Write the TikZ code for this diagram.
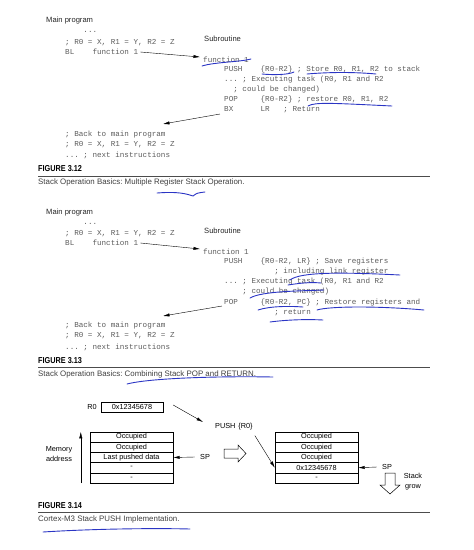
\documentclass[tikz,border=0pt]{standalone}
\usepackage{fontspec}
\setmainfont{Liberation Sans}
\newfontfamily\codefont{Liberation Mono}
\usetikzlibrary{arrows.meta}
\frenchspacing

\definecolor{codegray}{HTML}{5C5C5C}
\definecolor{inkblue}{HTML}{2B35C4}

\begin{document}
\begin{tikzpicture}[x=1pt,y=-1pt,
	            every node/.style={inner sep=0pt},
	            code/.style={
	            anchor=west,
	            text=codegray,
	            font=\codefont\fontsize{7.6}{9}\selectfont,
	            },
	            title/.style={anchor=west, text=black!85, font=\fontsize{7.6}{9}\selectfont},
	            figno/.style={anchor=west, xscale=0.85, transform shape, font=\bfseries\fontsize{8.6}{9}\selectfont},
	            caption/.style={anchor=west, text=black!75, font=\fontsize{7.9}{9}\selectfont},
	            cell/.style={draw, minimum width=83pt, minimum height=10.2pt, font=\fontsize{7.3}{8}\selectfont},
	            ink/.style={inkblue, line width=0.9pt, line cap=round},
	            rule/.style={black!70, line width=0.6pt},
	            hollow/.style={draw, line width=0.5pt, fill=white, line join=miter},
	            >={Latex[length=6.5pt,width=3.2pt]}]

	        \useasboundingbox (0,0) rectangle (474,550);

	        % figure 3.12
	        \node[title] (main12) at (46,21) {Main program};
	        \node[code] (dots12) at (65,32) {~~~~...};
	        \node[code] (set12) at (65,43) {; R0 = X, R1 = Y, R2 = Z};
	        \node[code] (bl12) at (65,52) {BL~~~~function 1};
	        \node[title] (sub12) at (204,39) {Subroutine};
	        \node[code] (fn12) at (203,60) {function 1};
	        \node[code] (push12) at (224,70) {PUSH~~~~\{R0-R2\} ; Store R0, R1, R2 to stack};
	        \node[code] (exec12) at (224,80) {... ; Executing task (R0, R1 and R2};
	        \node[code] (chg12) at (224,90) {~~; could be changed)};
	        \node[code] (pop12) at (224,100) {POP~~~~~\{R0-R2\} ; restore R0, R1, R2};
	        \node[code] (bx12) at (224,110) {BX~~~~~~LR~~~; Return};
	        \node[code] (back12) at (65,135) {; Back to main program};
	        \node[code] (rst12) at (65,145) {; R0 = X, R1 = Y, R2 = Z};
	        \node[code] (next12) at (65,155) {... ; next instructions};
	        \coordinate (ret12) at (163,124);

	        \draw[->] ([xshift=2pt]bl12.east) -- ([shift={(-3pt,3pt)}]fn12.west);
	        \draw[->] ([shift={(-4pt,-4pt)}]bx12.west) -- (ret12);

	        \node[figno] (fig12) at (38,169) {FIGURE 3.12};
	        \draw[rule] (38,176) -- (430,176);
	        \node[caption] (cap12) at (38,182) {Stack Operation Basics: Multiple Register Stack Operation.};

	        \draw[ink] (202,66) .. controls (215,62) and (240,62) .. (251,59);
	        \draw[ink] (262,74) .. controls (272,75) and (288,75) .. (294,72);
	        \draw[ink] (307,74) .. controls (330,72) and (355,72) .. (376,74);
	        \draw[ink] (308,106) .. controls (315,102) and (330,103) .. (392,106);
	        \draw[ink] (157,193) .. controls (170,192) and (182,192) .. (193,196) .. controls (197,193) .. (205,192);

	        % figure 3.13
	        \node[title] (main13) at (46,213) {Main program};
	        \node[code] (dots13) at (65,224) {~~~~...};
	        \node[code] (set13) at (65,234) {; R0 = X, R1 = Y, R2 = Z};
	        \node[code] (bl13) at (65,243) {BL~~~~function 1};
	        \node[title] (sub13) at (204,231) {Subroutine};
	        \node[code] (fn13) at (203,252) {function 1};
	        \node[code] (push13) at (224,262) {PUSH~~~~\{R0-R2, LR\} ; Save registers};
	        \node[code] (incl13) at (224,272) {~~~~~~~~~~~; including link register};
	        \node[code] (exec13) at (224,282) {... ; Executing task (R0, R1 and R2};
	        \node[code] (chg13) at (224,292) {~~~~; could be changed)};
	        \node[code] (pop13) at (224,303) {POP~~~~~\{R0-R2, PC\} ; Restore registers and};
	        \node[code] (rtn13) at (224,313) {~~~~~~~~~~~; return};
	        \node[code] (back13) at (65,326) {; Back to main program};
	        \node[code] (rst13) at (65,336) {; R0 = X, R1 = Y, R2 = Z};
	        \node[code] (next13) at (65,347) {... ; next instructions};
	        \coordinate (ret13) at (163,316);

	        \draw[->] ([xshift=2pt]bl13.east) -- ([shift={(-3pt,3pt)}]fn13.west);
	        \draw[->] ([shift={(-2pt,-3pt)}]pop13.west) -- (ret13);

	        \node[figno] (fig13) at (38,361) {FIGURE 3.13};
	        \draw[rule] (38,367) -- (430,367);
	        \node[caption] (cap13) at (38,374) {Stack Operation Basics: Combining Stack POP and RETURN.};

	        \draw[ink] (290,280) .. controls (300,272) and (340,272) .. (400,275);
	        \draw[ink] (288,285) .. controls (300,283) and (312,282) .. (321,283);
	        \draw[ink] (250,298) .. controls (262,291) and (300,291) .. (324,290);
	        \draw[ink] (258,310) .. controls (270,306) and (290,306) .. (303,307);
	        \draw[ink] (317,310) .. controls (330,306) and (380,306) .. (424,310);
	        \draw[ink] (270,322) .. controls (285,320) and (305,319) .. (323,320);
	        \draw[ink] (127,384) .. controls (150,378) and (220,376) .. (273,377);

	        % figure 3.14
	        \node (r0) at (92,407) {\fontsize{7.3}{8}\selectfont R0};
	        \node[draw, minimum width=62pt, minimum height=10pt, font=\fontsize{7.3}{8}\selectfont] (r0box) at (132,407) {0x12345678};
	        \node[anchor=west, font=\fontsize{7.3}{8}\selectfont] (pushlbl) at (215,427) {PUSH\hspace{3pt}\{R0\}};
	        \draw[->] ([shift={(10pt,2pt)}]r0box.east) -- ([shift={(-12pt,5pt)}]pushlbl.west);

	        \node[cell] (l1) at (131.5,437.1) {Occupied};
	        \node[cell] (l2) at (131.5,447.3) {Occupied};
	        \node[cell] (l3) at (131.5,457.5) {Last pushed data};
	        \node[cell] (l4) at (131.5,467.7) {-};
	        \node[cell] (l5) at (131.5,477.9) {-};

	        \node[cell] (r1) at (316.5,437.1) {Occupied};
	        \node[cell] (r2) at (316.5,447.3) {Occupied};
	        \node[cell] (r3) at (316.5,457.5) {Occupied};
	        \node[cell] (r4) at (316.5,467.7) {0x12345678};
	        \node[cell] (r5) at (316.5,477.9) {-};

	        \draw[->] ([xshift=-9pt]l5.south west) -- ([xshift=-9pt]l1.north west);
	        \node[align=center, font=\fontsize{7.3}{10}\selectfont] (mem) at (59,454) {Memory\\address};

	        \node (spl) at (205,457) {\fontsize{7.3}{8}\selectfont SP};
	        \draw[->] ([xshift=-5pt]spl.west) -- (l3.east);
	        \node (spr) at (387,467) {\fontsize{7.3}{8}\selectfont SP};
	        \draw[->] ([xshift=-5pt]spr.west) -- (r4.east);
	        \draw[->] ([shift={(2pt,-5pt)}]pushlbl.south east) -- (r4.west);

	        \draw[hollow] (224,449) -- (238,449) -- (238,445) -- (246,453.5) -- (238,462) -- (238,458) -- (224,458) -- cycle;
	        \draw[hollow] (385,473) -- (395,473) -- (395,485) -- (400,485) -- (390,494) -- (380,485) -- (385,485) -- cycle;
	        \node[align=center, font=\fontsize{7.3}{10}\selectfont] (grow) at (413,482) {Stack\\grow};

	        \node[figno] (fig14) at (38,506) {FIGURE 3.14};
	        \draw[rule] (38,512) -- (430,512);
	        \node[caption] (cap14) at (38,519) {Cortex-M3 Stack PUSH Implementation.};

	        \draw[ink] (43,532) .. controls (90,529) and (150,528) .. (190,529);

	    \end{tikzpicture}
\end{document}
